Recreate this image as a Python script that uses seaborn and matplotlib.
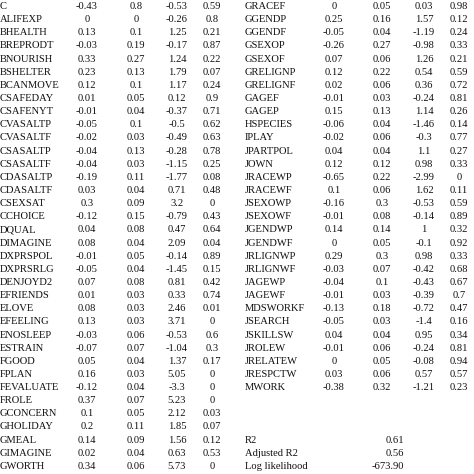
import matplotlib
matplotlib.use("Agg")
import matplotlib.pyplot as plt
import seaborn as sns

# --- Data (regression coefficient table) ---
left_names = ["C", "ALIFEXP", "BHEALTH", "BREPRODT", "BNOURISH", "BSHELTER", "BCANMOVE",
              "CSAFEDAY", "CSAFENYT", "CVASALTP", "CVASALTF", "CSASALTP", "CSASALTF",
              "CDASALTP", "CDASALTF", "CSEXSAT", "CCHOICE", "DQUAL", "DIMAGINE", "DXPRSPOL",
              "DXPRSRLG", "DENJOYD2", "EFRIENDS", "ELOVE", "EFEELING", "ENOSLEEP", "ESTRAIN",
              "FGOOD", "FPLAN", "FEVALUATE", "FROLE", "GCONCERN", "GHOLIDAY", "GMEAL",
              "GIMAGINE", "GWORTH"]
left_coef = ["-0.43", "0", "0.13", "-0.03", "0.33", "0.23", "0.12", "0.01", "-0.01", "-0.05",
             "-0.02", "-0.04", "-0.04", "-0.19", "0.03", "0.3", "-0.12", "0.04", "0.08", "-0.01",
             "-0.05", "0.07", "0.01", "0.08", "0.13", "-0.03", "-0.07", "0.05", "0.16", "-0.12",
             "0.37", "0.1", "0.2", "0.14", "0.02", "0.34"]
left_se = ["0.8", "0", "0.1", "0.19", "0.27", "0.13", "0.1", "0.05", "0.04", "0.1", "0.03",
           "0.13", "0.03", "0.11", "0.04", "0.09", "0.15", "0.08", "0.04", "0.05", "0.04",
           "0.08", "0.03", "0.03", "0.03", "0.06", "0.07", "0.04", "0.03", "0.04", "0.07",
           "0.05", "0.11", "0.09", "0.04", "0.06"]
left_t = ["-0.53", "-0.26", "1.25", "-0.17", "1.24", "1.79", "1.17", "0.12", "-0.37", "-0.5",
          "-0.49", "-0.28", "-1.15", "-1.77", "0.71", "3.2", "-0.79", "0.47", "2.09", "-0.14",
          "-1.45", "0.81", "0.33", "2.46", "3.71", "-0.53", "-1.04", "1.37", "5.05", "-3.3",
          "5.23", "2.12", "1.85", "1.56", "0.63", "5.73"]
left_p = ["0.59", "0.8", "0.21", "0.87", "0.22", "0.07", "0.24", "0.9", "0.71", "0.62", "0.63",
          "0.78", "0.25", "0.08", "0.48", "0", "0.43", "0.64", "0.04", "0.89", "0.15", "0.42",
          "0.74", "0.01", "0", "0.6", "0.3", "0.17", "0", "0", "0", "0.03", "0.07", "0.12",
          "0.53", "0"]

right_names = ["GRACEF", "GGENDP", "GGENDF", "GSEXOP", "GSEXOF", "GRELIGNP", "GRELIGNF",
               "GAGEF", "GAGEP", "HSPECIES", "IPLAY", "JPARTPOL", "JOWN", "JRACEWP", "JRACEWF",
               "JSEXOWP", "JSEXOWF", "JGENDWP", "JGENDWF", "JRLIGNWP", "JRLIGNWF", "JAGEWP",
               "JAGEWF", "MDSWORKF", "JSEARCH", "JSKILLSW", "JROLEW", "JRELATEW", "JRESPCTW",
               "MWORK"]
right_coef = ["0", "0.25", "-0.05", "-0.26", "0.07", "0.12", "0.02", "-0.01", "0.15", "-0.06",
              "-0.02", "0.04", "0.12", "-0.65", "0.1", "-0.16", "-0.01", "0.14", "0", "0.29",
              "-0.03", "-0.04", "-0.01", "-0.13", "-0.05", "0.04", "-0.01", "0", "0.03", "-0.38"]
right_se = ["0.05", "0.16", "0.04", "0.27", "0.06", "0.22", "0.06", "0.03", "0.13", "0.04",
            "0.06", "0.04", "0.12", "0.22", "0.06", "0.3", "0.08", "0.14", "0.05", "0.3",
            "0.07", "0.1", "0.03", "0.18", "0.03", "0.04", "0.06", "0.05", "0.06", "0.32"]
right_t = ["0.03", "1.57", "-1.19", "-0.98", "1.26", "0.54", "0.36", "-0.24", "1.14", "-1.46",
           "-0.3", "1.1", "0.98", "-2.99", "1.62", "-0.53", "-0.14", "1", "-0.1", "0.98",
           "-0.42", "-0.43", "-0.39", "-0.72", "-1.4", "0.95", "-0.24", "-0.08", "0.57", "-1.21"]
right_p = ["0.98", "0.12", "0.24", "0.33", "0.21", "0.59", "0.72", "0.81", "0.26", "0.14",
           "0.77", "0.27", "0.33", "0", "0.11", "0.59", "0.89", "0.32", "0.92", "0.33", "0.68",
           "0.67", "0.7", "0.47", "0.16", "0.34", "0.81", "0.94", "0.57", "0.23"]

stat_labels = ["R2", "Adjusted R2", "Log likelihood"]
stat_values = ["0.61", "0.56", "-673.90"]

# --- Layout ---
sns.set_theme(style="white")
plt.rcParams["font.family"] = ["Liberation Serif", "DejaVu Serif"]
FS = 7.6
ROW0, ROWH = 6.5, 13.14

fig = plt.figure(figsize=(4.74, 4.74), dpi=100)
ax = fig.add_axes([0, 0, 1, 1])
ax.set_xlim(0, 474)
ax.set_ylim(474, 0)
ax.axis("off")

def row_y(i):
    return ROW0 + i * ROWH

left_cols = [left_coef, left_se, left_t, left_p]
left_x = [87, 136, 177, 212]
for i, name in enumerate(left_names):
    y = row_y(i)
    ax.text(-0.5, y, name, fontsize=FS, ha="left", va="center", color="#111111")
    for col, x in zip(left_cols, left_x):
        ax.text(x, y, col[i], fontsize=FS, ha="center", va="center", color="#111111")

right_cols = [right_coef, right_se, right_t, right_p]
right_x = [334, 382, 424, 459]
for i, name in enumerate(right_names):
    y = row_y(i)
    ax.text(245, y, name, fontsize=FS, ha="left", va="center", color="#111111")
    for col, x in zip(right_cols, right_x):
        ax.text(x, y, col[i], fontsize=FS, ha="center", va="center", color="#111111")

for k, (lab, val) in enumerate(zip(stat_labels, stat_values)):
    y = row_y(33 + k)
    ax.text(245, y, lab, fontsize=FS, ha="left", va="center", color="#111111")
    ax.text(404, y, val, fontsize=FS, ha="right", va="center", color="#111111")

fig.savefig("out.png", dpi=100)
